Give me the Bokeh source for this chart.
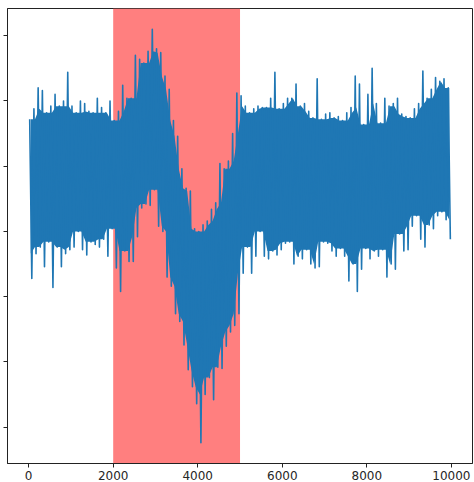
import numpy as np
from bokeh.plotting import figure
from bokeh.models import FixedTicker, Range1d, BoxAnnotation
from bokeh.embed import file_html
from bokeh.resources import INLINE

# ---- data ----
n_samples = 10000
bin_size = 100                      # each entry = extreme of 100 consecutive samples
span_start, span_end = 2000, 5000   # highlighted anomaly window
x_ticks = [0, 2000, 4000, 6000, 8000, 10000]
y_ticks = [-20, -15, -10, -5, 0, 5, 10]

bin_high = [
    3.6, 4.4, 6.0, 5.8, 4.1, 4.6, 5.5, 4.6, 5.0, 7.2,
    4.6, 4.1, 5.0, 4.8, 4.2, 4.1, 5.2, 4.5, 4.1, 5.0,
    3.5, 4.2, 6.2, 5.2, 5.2, 8.5, 8.2, 7.9, 8.8, 10.5,
    9.0, 8.7, 6.9, 5.9, 3.5, 2.3, -0.2, -1.7, -1.9, -4.8,
    -5.0, -4.5, -4.2, -3.3, -2.8, 0.2, -0.2, 0.4, 2.5, 5.6,
    5.4, 4.6, 4.1, 4.4, 4.6, 4.5, 4.5, 5.2, 7.2, 4.4,
    4.8, 5.2, 5.2, 6.3, 4.6, 4.8, 4.2, 3.7, 6.7, 3.6,
    4.0, 4.1, 3.7, 3.8, 3.5, 4.1, 4.5, 6.9, 6.3, 3.2,
    5.5, 7.5, 4.8, 3.3, 5.2, 4.6, 4.8, 5.2, 4.0, 3.8,
    3.7, 4.4, 4.8, 7.3, 5.2, 5.9, 6.8, 6.5, 6.7, 6.0,
]
bin_low = [
    -8.6, -6.7, -6.2, -7.7, -5.8, -9.3, -6.2, -7.7, -6.7, -6.4,
    -6.2, -5.0, -6.4, -6.8, -5.8, -6.0, -6.2, -5.6, -6.9, -4.8,
    -7.8, -9.6, -6.5, -7.3, -7.3, -5.4, -3.2, -2.9, -3.0, -1.8,
    -4.6, -5.0, -8.5, -9.2, -11.3, -11.9, -13.7, -15.6, -16.9, -18.2,
    -21.2, -17.5, -16.2, -17.9, -15.4, -15.5, -13.8, -12.7, -12.2, -11.3,
    -8.2, -6.2, -8.2, -6.9, -5.0, -6.9, -7.1, -6.5, -6.8, -6.4,
    -5.9, -5.8, -7.5, -6.9, -7.1, -6.4, -7.5, -7.8, -7.7, -5.8,
    -5.9, -6.5, -6.9, -6.3, -6.9, -8.8, -7.5, -9.6, -7.9, -6.3,
    -7.1, -6.5, -6.9, -6.4, -8.5, -7.5, -7.9, -5.2, -6.5, -6.4,
    -4.6, -3.8, -5.6, -6.2, -4.5, -4.8, -3.8, -3.5, -4.1, -5.6,
]

# ---- build the signal trace: alternate bin maximum / minimum ----
hi = np.array(bin_high)
lo = np.array(bin_low)
starts = np.arange(0, n_samples, bin_size)
xs = np.empty(2 * len(starts))
ys = np.empty(2 * len(starts))
xs[0::2] = starts + bin_size * 0.25
xs[1::2] = starts + bin_size * 0.75
ys[0::2] = hi
ys[1::2] = lo

# dense core of the trace (where samples overlap solidly)
hp = np.pad(hi, 1, mode="edge")
lp = np.pad(lo, 1, mode="edge")
core_hi = np.minimum(np.minimum(hp[:-2], hp[1:-1]), hp[2:])
core_lo = np.maximum(np.maximum(lp[:-2], lp[1:-1]), lp[2:])

# autoscale with 5 % margins, like the original
x_last = n_samples - 1
x_pad = 0.05 * x_last
y_min, y_max = lo.min(), hi.max()
y_pad = 0.05 * (y_max - y_min)

BLUE = "#1f77b4"

p = figure(width=474, height=482, output_backend="svg", toolbar_location=None,
           x_range=Range1d(-x_pad, x_last + x_pad),
           y_range=Range1d(y_min - y_pad, y_max + y_pad),
           min_border_left=7, min_border_right=2, min_border_top=8, min_border_bottom=0)
p.background_fill_color = "white"
p.border_fill_color = "white"
p.xgrid.visible = False
p.ygrid.visible = False
p.outline_line_color = "#222222"
p.outline_line_width = 1

span = BoxAnnotation(left=span_start, right=span_end, fill_color="#ff7f7f",
                     fill_alpha=1.0, line_alpha=0, level="underlay")
p.add_layout(span)

p.varea(x=starts + bin_size * 0.5, y1=core_lo, y2=core_hi, fill_color=BLUE)
p.line(xs, ys, line_color=BLUE, line_width=1.6, line_join="round")

p.xaxis.ticker = FixedTicker(ticks=x_ticks, minor_ticks=[])
p.yaxis.ticker = FixedTicker(ticks=y_ticks, minor_ticks=[])
p.yaxis.major_label_overrides = {t: "" for t in y_ticks}
p.yaxis.major_label_standoff = 0
for ax in (p.xaxis[0], p.yaxis[0]):
    ax.axis_line_color = "#222222"
    ax.major_tick_line_color = "#222222"
    ax.major_tick_out = 4
    ax.major_tick_in = 0
    ax.minor_tick_line_color = None
p.xaxis.major_label_text_font = "DejaVu Sans"
p.xaxis.major_label_text_font_size = "12px"
p.xaxis.major_label_text_color = "#262626"
p.xaxis.major_label_standoff = 3

open("out.html", "w").write(file_html(p, INLINE))
